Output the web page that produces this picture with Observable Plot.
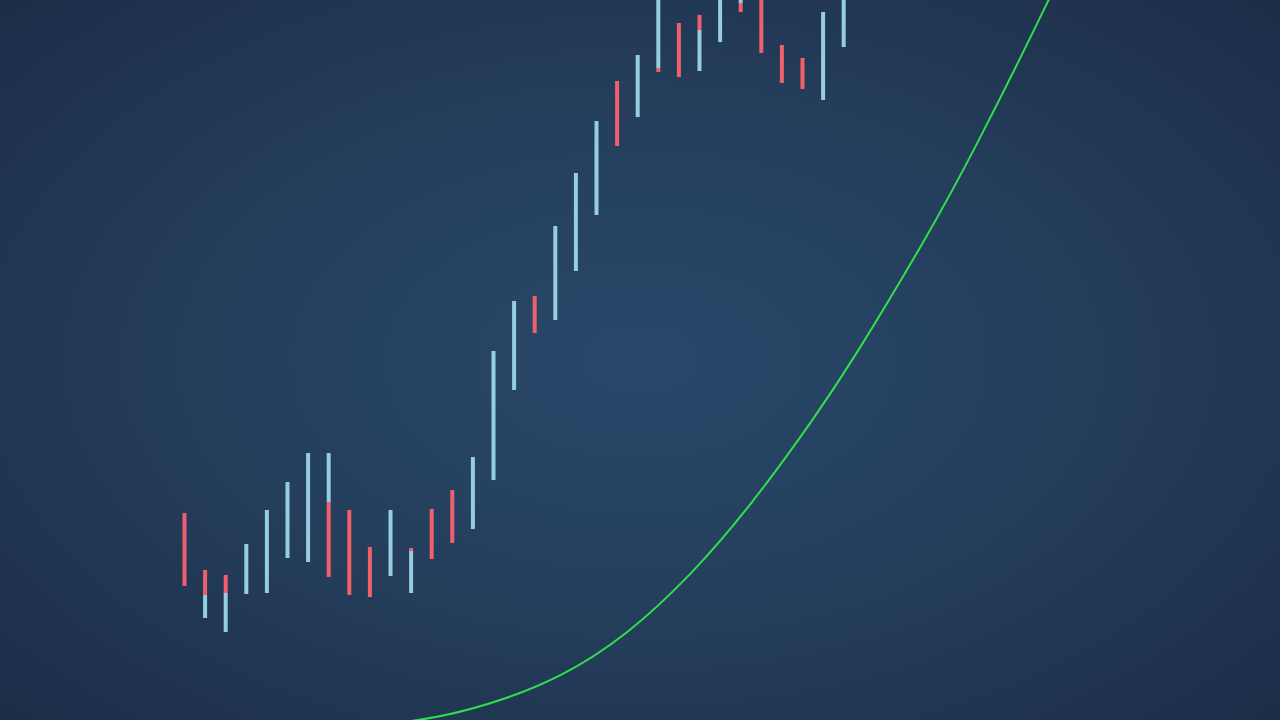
<!DOCTYPE html>
<html>
<head>
<meta charset="utf-8">
<script src="https://cdn.jsdelivr.net/npm/d3@7"></script>
<script src="https://cdn.jsdelivr.net/npm/@observablehq/plot@0.6"></script>
<style>
  html, body { margin: 0; padding: 0; width: 1280px; height: 720px; overflow: hidden; }
  body { background: radial-gradient(ellipse 75% 80% at 50% 50%, #29486a 0%, #243e5c 45%, #1b2a44 100%); }
  #chart svg { display: block; background: transparent; }
</style>
</head>
<body>
<div id="chart"></div>
<script>
// Bar index (session number)
const barIndex = d3.range(33);
// Price range of each bar
const barHigh  = [51.75, 37.5, 36.25, 44, 52.5, 59.5, 66.75, 66.75, 52.5, 43.25, 52.5, 43, 52.75, 57.5, 65.75, 92.25, 104.75, 106, 123.5, 136.75, 149.75, 159.75, 166.25, 182.5, 174.25, 176.25, 182.5, 182.5, 182.5, 168.75, 165.5, 177, 182.5];
const barLow   = [33.5, 25.5, 22, 31.5, 31.75, 40.5, 39.5, 35.75, 31.25, 30.75, 36, 31.75, 40.25, 44.25, 47.75, 60, 82.5, 96.75, 100, 112.25, 126.25, 143.5, 150.75, 162, 160.75, 162.25, 169.5, 177, 166.75, 159.25, 157.75, 155, 168.25];
// Price where the bar colour changes (null = single colour)
const barSplit = [null, 31.25, 31.75, null, null, null, null, 54.5, null, null, null, 42.25, null, null, null, null, null, null, null, null, null, null, null, 163, null, 172.5, null, 179.25, null, null, null, null, null];
// Colour class of upper / lower part
const barUpper = ["down","down","down","up","up","up","up","up","down","down","up","down","down","down","up","up","up","down","up","up","up","down","up","up","down","down","up","up","down","down","down","up","up"];
const barLower = ["down","up","up","up","up","up","up","down","down","down","up","up","down","down","up","up","up","down","up","up","up","down","up","down","down","up","up","down","down","down","down","up","up"];

// Trend curve
const curveX = [8.54, 11.31, 14.76, 18.25, 21.46, 24.56, 27.52, 30.39, 32.72, 35.73, 38.50, 41.89, 43.98];
const curveY = [-1, 0.1, 4.2, 11.35, 22, 36.73, 54.43, 74.48, 92.65, 118.45, 144.53, 179.53, 202.63];

const segments = [];
barIndex.forEach(i => {
  if (barSplit[i] == null) {
    segments.push({x: i, y1: barHigh[i], y2: barLow[i], kind: barUpper[i]});
  } else {
    segments.push({x: i, y1: barHigh[i], y2: barSplit[i], kind: barUpper[i]});
    segments.push({x: i, y1: barSplit[i], y2: barLow[i], kind: barLower[i]});
  }
});
const curve = curveX.map((x, k) => ({x, y: curveY[k]}));

const chart = Plot.plot({
  width: 1280,
  height: 720,
  margin: 0,
  style: {background: "transparent"},
  x: {domain: [-8.932, 53.204], axis: null},
  y: {domain: [0, 180], axis: null},
  color: {domain: ["up", "down"], range: ["#96cde0", "#ef606c"]},
  clip: true,
  marks: [
    Plot.line(curve, {x: "x", y: "y", curve: "natural", stroke: "#2fe04c", strokeWidth: 2}),
    Plot.ruleX(segments, {x: "x", y1: "y1", y2: "y2", stroke: "kind", strokeWidth: 4, strokeLinecap: "butt"})
  ]
});
document.getElementById("chart").appendChild(chart);
</script>
</body>
</html>
